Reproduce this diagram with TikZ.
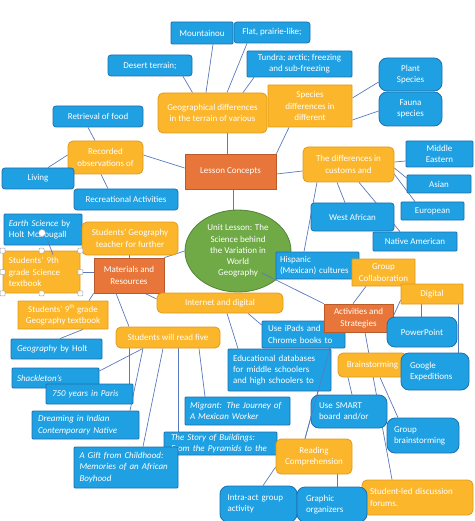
\documentclass[tikz,border=0pt]{standalone}
\usepackage{fontspec}
\setmainfont{Carlito}
\definecolor{mBlue}{HTML}{1FA0E2}
\definecolor{mBlueDk}{HTML}{1D6FAE}
\definecolor{mOrange}{HTML}{FBB62B}
\definecolor{mOrangeDk}{HTML}{E09A1F}
\definecolor{mRed}{HTML}{E8763A}
\definecolor{mRedDk}{HTML}{B95A2A}
\definecolor{mGreen}{HTML}{6FAA46}
\definecolor{mGreenDk}{HTML}{52833A}
\definecolor{mLink}{HTML}{5A7ABF}
\usetikzlibrary{shapes.geometric}
\pgfdeclarelayer{background}
\pgfsetlayers{background,main}

\begin{document}
\begin{tikzpicture}[x=1pt, y=-1pt, font=\fontsize{9}{11.3}\selectfont,
  bx/.style={draw=mBlueDk, fill=mBlue, text=white, line width=0.8pt, inner xsep=5pt, inner ysep=0.5pt, align=center},
  bsq/.style={bx, rounded corners=1pt},
  brd/.style={bx, rounded corners=3pt},
  bpl/.style={bx, rounded corners=8pt},
  ox/.style={draw=mOrangeDk, fill=mOrange, text=white, line width=0.8pt, inner xsep=5pt, inner ysep=0.5pt, align=center},
  osq/.style={ox, rounded corners=0.5pt},
  ord/.style={ox, rounded corners=5pt},
  hub/.style={draw=mRedDk, fill=mRed, text=white, line width=0.8pt, inner xsep=5pt, inner ysep=0.5pt, align=center},
  unit/.style={ellipse, draw=mGreenDk, fill=mGreen, text=white, line width=0.8pt, inner sep=0pt, minimum width=106, minimum height=82, align=center},
  lft/.style={align=left, text width=#1, inner xsep=3pt},
  link/.style={draw=mLink, line width=0.7pt},
  hdl/.style={draw=gray!70, fill=white, line width=0.5pt, minimum size=5, inner sep=0pt, rounded corners=0.8pt}]
\useasboundingbox (0,0) rectangle (474,521);

\node[unit] (unit) at (238,251) {Unit Lesson: The\\Science behind\\the Variation in\\World\\Geography};

\node[bsq, minimum width=62, minimum height=22] (mount) at (202,33) {Mountainou};
\node[brd, minimum width=76, minimum height=21] (flat) at (272,32.5) {Flat, prairie-like;};
\node[brd, minimum width=84, minimum height=21] (desert) at (150,65.5) {Desert terrain;};
\node[bsq, minimum width=105, minimum height=26] (tundra) at (299.5,64) {Tundra; arctic; freezing\\and sub-freezing};
\node[ord, minimum width=109, minimum height=40] (geo) at (212.5,113) {Geographical differences\\in the terrain of various};
\node[osq, minimum width=84, minimum height=42] (species) at (310,106) {Species\\differences in\\different};
\node[bpl, minimum width=63, minimum height=33] (plant) at (410.5,74.5) {Plant\\Species};
\node[bpl, minimum width=63, minimum height=34] (fauna) at (410.5,109) {Fauna\\species};

\node[brd, minimum width=90, minimum height=21] (retr) at (98,116.5) {Retrieval of food};
\node[ord, minimum width=75, minimum height=33] (recd) at (105.5,157.5) {Recorded\\observations of};
\node[brd, minimum width=72, minimum height=21] (living) at (38,178.5) {Living};
\node[brd, minimum width=104, minimum height=21] (recr) at (126,199.5) {Recreational Activities};

\node[hub, minimum width=91, minimum height=35] (lesson) at (230.5,171.5) {Lesson Concepts};
\node[ord, minimum width=91, minimum height=35] (diff) at (348.5,164.5) {The differences in\\customs and};
\node[bsq, minimum width=67, minimum height=26] (mideast) at (439.5,154) {Middle\\Eastern};
\node[bsq, minimum width=64, minimum height=18] (asian) at (439,184) {Asian};
\node[bsq, minimum width=63, minimum height=18] (europ) at (432.5,211) {European};
\node[brd, minimum width=83, minimum height=28] (westaf) at (352.5,217) {West African};
\node[bsq, minimum width=84, minimum height=19] (natam) at (415,241.5) {Native American};
\node[bsq, lft=75, minimum width=83, minimum height=27] (hisp) at (317.5,265.5) {Hispanic\\(Mexican) cultures};

\node[bsq, lft=68, minimum width=78, minimum height=31] (earth) at (43,229.5) {\textit{Earth Science} by\\Holt McDougall};
\node[ord, minimum width=96, minimum height=33] (teach) at (130,238.5) {Students’ Geography\\teacher for further};
\node[osq, lft=65, minimum width=77, minimum height=42] (sci9) at (41.5,272) {Students’ 9th\\grade Science\\textbook};
\node[hub, minimum width=70, minimum height=35] (mat) at (129,275.5) {Materials and\\Resources};
\node[osq, minimum width=90, minimum height=28] (geo9) at (63,315) {Students’ 9\textsuperscript{th} grade\\Geography textbook};
\node[ord, minimum width=126, minimum height=20] (inet) at (220,303) {Internet and digital};
\node[ord, minimum width=104, minimum height=21] (read5) at (168,337.5) {Students will read five};

\node[bsq, lft=79, minimum width=91, minimum height=20] (geoholt) at (56.5,349) {\textit{Geography} by Holt};
\node[bsq, lft=77, minimum width=87, minimum height=20] (shack) at (55.5,378) {\textit{Shackleton’s}};
\node[bsq, lft=75, minimum width=87, minimum height=20] (paris) at (89.5,394) {\textit{750 years in Paris}};
\node[bsq, lft=95, minimum width=107, minimum height=28] (dream) at (85.5,425) {\textit{Dreaming in Indian}\\\textit{Contemporary Native}};
\node[bsq, lft=99, minimum width=113, minimum height=23] (story) at (220.5,443.5) {\textit{The Story of Buildings:}\\\textit{From the Pyramids to the}};
\node[bsq, lft=93, minimum width=104, minimum height=41] (gift) at (126,467.5) {\textit{A Gift from Childhood:}\\\textit{Memories of an African}\\\textit{Boyhood}};
\node[bsq, lft=95, minimum width=105, minimum height=28] (migr) at (237.5,411) {\textit{Migrant: The Journey of}\\\textit{A Mexican Worker}};

\node[bsq, lft=71, minimum width=83, minimum height=27] (ipads) at (303.5,334.5) {Use iPads and\\Chrome books to};
\node[bsq, lft=93, minimum width=103, minimum height=42] (edu) at (279.5,370) {Educational databases\\for middle schoolers\\and high schoolers to};
\node[osq, minimum width=63, minimum height=27] (grpcol) at (383.5,272.5) {Group\\Collaboration};
\node[osq, minimum width=62, minimum height=20] (digital) at (432,294) {Digital};
\node[hub, minimum width=69, minimum height=28] (activ) at (358.5,318) {Activities and\\Strategies};
\node[bpl, minimum width=70, minimum height=30] (ppt) at (422,332) {PowerPoint};
\node[ord, minimum width=69, minimum height=24] (brain) at (372.5,365) {Brainstorming};
\node[bpl, lft=50, minimum width=68, minimum height=37] (google) at (435,371.5) {Google\\Expeditions};
\node[bpl, lft=60, minimum width=76, minimum height=33] (smart) at (349,411.5) {Use SMART\\board and/or};
\node[bpl, lft=58, minimum width=72, minimum height=35] (grpbr) at (423,435.5) {Group\\brainstorming};
\node[ord, minimum width=76, minimum height=35] (readc) at (314,456.5) {Reading\\Comprehension};
\node[ord, lft=95, minimum width=111, minimum height=35] (stud) at (417.5,497.5) {Student-led discussion\\forums.};
\node[bpl, lft=62, minimum width=77, minimum height=36] (intra) at (258.5,504) {Intra-act group\\activity};
\node[bpl, lft=52, minimum width=70, minimum height=35] (graph) at (332,504.5) {Graphic\\organizers};

\draw[link] ([xshift=24,yshift=-22]unit.center) -- (activ.north west);
\draw[link] ([xshift=4,yshift=-9.5]earth.center) -- ([xshift=11.5,yshift=-4]sci9.north);
\draw[link] ([xshift=-15.3]ipads.south east) -- ([xshift=-9]readc.north);

\begin{pgfonlayer}{background}
\draw[link] ([xshift=33]desert.south) -- ([xshift=-20]geo.north);
\draw[link] ([xshift=11]mount.south) -- ([xshift=-6.5]geo.north);
\draw[link] ([xshift=-25]flat.south) -- ([xshift=14.5]geo.north);
\draw[link] ([xshift=-45.5]tundra.south) -- ([xshift=30.5]geo.north);
\draw[link] ([yshift=8]species.east) -- ([yshift=-7.5]plant.west);
\draw[link] ([yshift=-14]species.east) -- ([yshift=-2]fauna.west);
\draw[link] ([xshift=-3.5]lesson.north) -- ([xshift=14.5]geo.south);
\draw[link] (lesson.north east) -- ([xshift=-21]species.south);
\draw[link] ([yshift=-2.5]lesson.east) -- ([yshift=-6.5]diff.west);
\draw[link] ([xshift=2.5]lesson.south) -- ([xshift=-5]unit.north);
\draw[link] ([xshift=-10]retr.south) -- ([xshift=-10.5]recd.north);
\draw[link] ([yshift=2.5]recd.west) -- ([xshift=10]living.north);
\draw[link] ([xshift=-4.5]recd.south) -- ([xshift=-18]recr.north);
\draw[link] ([yshift=2.5]recd.east) -- ([yshift=3.5]lesson.west);
\draw[link] ([yshift=2.5]diff.east) -- ([yshift=-7]mideast.west);
\draw[link] ([yshift=-3.5]diff.east) -- ([yshift=6]asian.west);
\draw[link] ([xshift=-1,yshift=-8.5]diff.east) -- ([xshift=-17.5]europ.north);
\draw[link] ([xshift=-11.5]diff.south) -- ([xshift=-7.5]westaf.north);
\draw[link] ([xshift=10.5]diff.south) -- ([xshift=-15]natam.north);
\draw[link] ([xshift=-31.5]diff.south) -- ([xshift=-13.5]hisp.north);
\draw[link] (unit.west) -- (mat.north east);
\draw[link] ([xshift=-1]teach.south) -- (mat.north);
\draw[link] (sci9.east) -- ([yshift=3.5]mat.west);
\draw[link] (mat.south west) -- ([xshift=26]geo9.north);
\draw[link] ([xshift=16]mat.south) -- ([yshift=4]inet.west);
\draw[link] ([xshift=-13]mat.south) -- ([xshift=-39]read5.north);
\draw[link] ([xshift=20]geo9.south) -- ([xshift=3.5]geoholt.north);
\draw[link] ([xshift=-25]read5.south) -- ([yshift=7]shack.east);
\draw[link] ([xshift=-39]read5.south) -- ([xshift=39.5]paris.north);
\draw[link] ([xshift=-25]read5.south) -- ([xshift=44.5]dream.north);
\draw[link] ([xshift=-5]read5.south) -- ([xshift=17]gift.north);
\draw[link] ([xshift=10]read5.south) -- ([xshift=-42.5]story.north);
\draw[link] ([xshift=31]read5.south) -- ([xshift=-32.5]migr.north);
\draw[link] ([xshift=7]inet.south) -- ([xshift=-41.5]edu.north);
\draw[link] ([xshift=28]inet.south) -- ([yshift=9.5]ipads.west);
\draw[link] ([xshift=-24.5]activ.south) -- ([xshift=-9]readc.north);
\draw[link] ([xshift=-5.5]activ.north) -- ([xshift=-17.5]grpcol.south);
\draw[link] ([yshift=2]activ.east) -- ([yshift=-6]digital.west);
\draw[link] ([xshift=-11]digital.south) -- ([xshift=-1]ppt.north);
\draw[link] ([xshift=26]digital.south) -- ([xshift=23]google.north);
\draw[link] ([xshift=6.5]activ.south) -- ([xshift=-25.5]stud.north);
\draw[link] ([xshift=-24.5]brain.south) -- ([xshift=3]smart.north);
\draw[link] ([xshift=7.5]brain.south) -- ([xshift=-25]grpbr.north);
\draw[link] ([yshift=-10.5]readc.west) -- ([xshift=4.5]intra.north);
\draw[link] ([xshift=23]readc.south) -- ([xshift=5]graph.north);
\end{pgfonlayer}

\foreach \a [count=\i] in {north west,north,north east,east,south east,south,south west,west}
  \node[hdl] (hd\i) at (sci9.\a) {};
\node[hdl, circle, minimum size=7] (rot) at (42,233) {};
\end{tikzpicture}
\end{document}
